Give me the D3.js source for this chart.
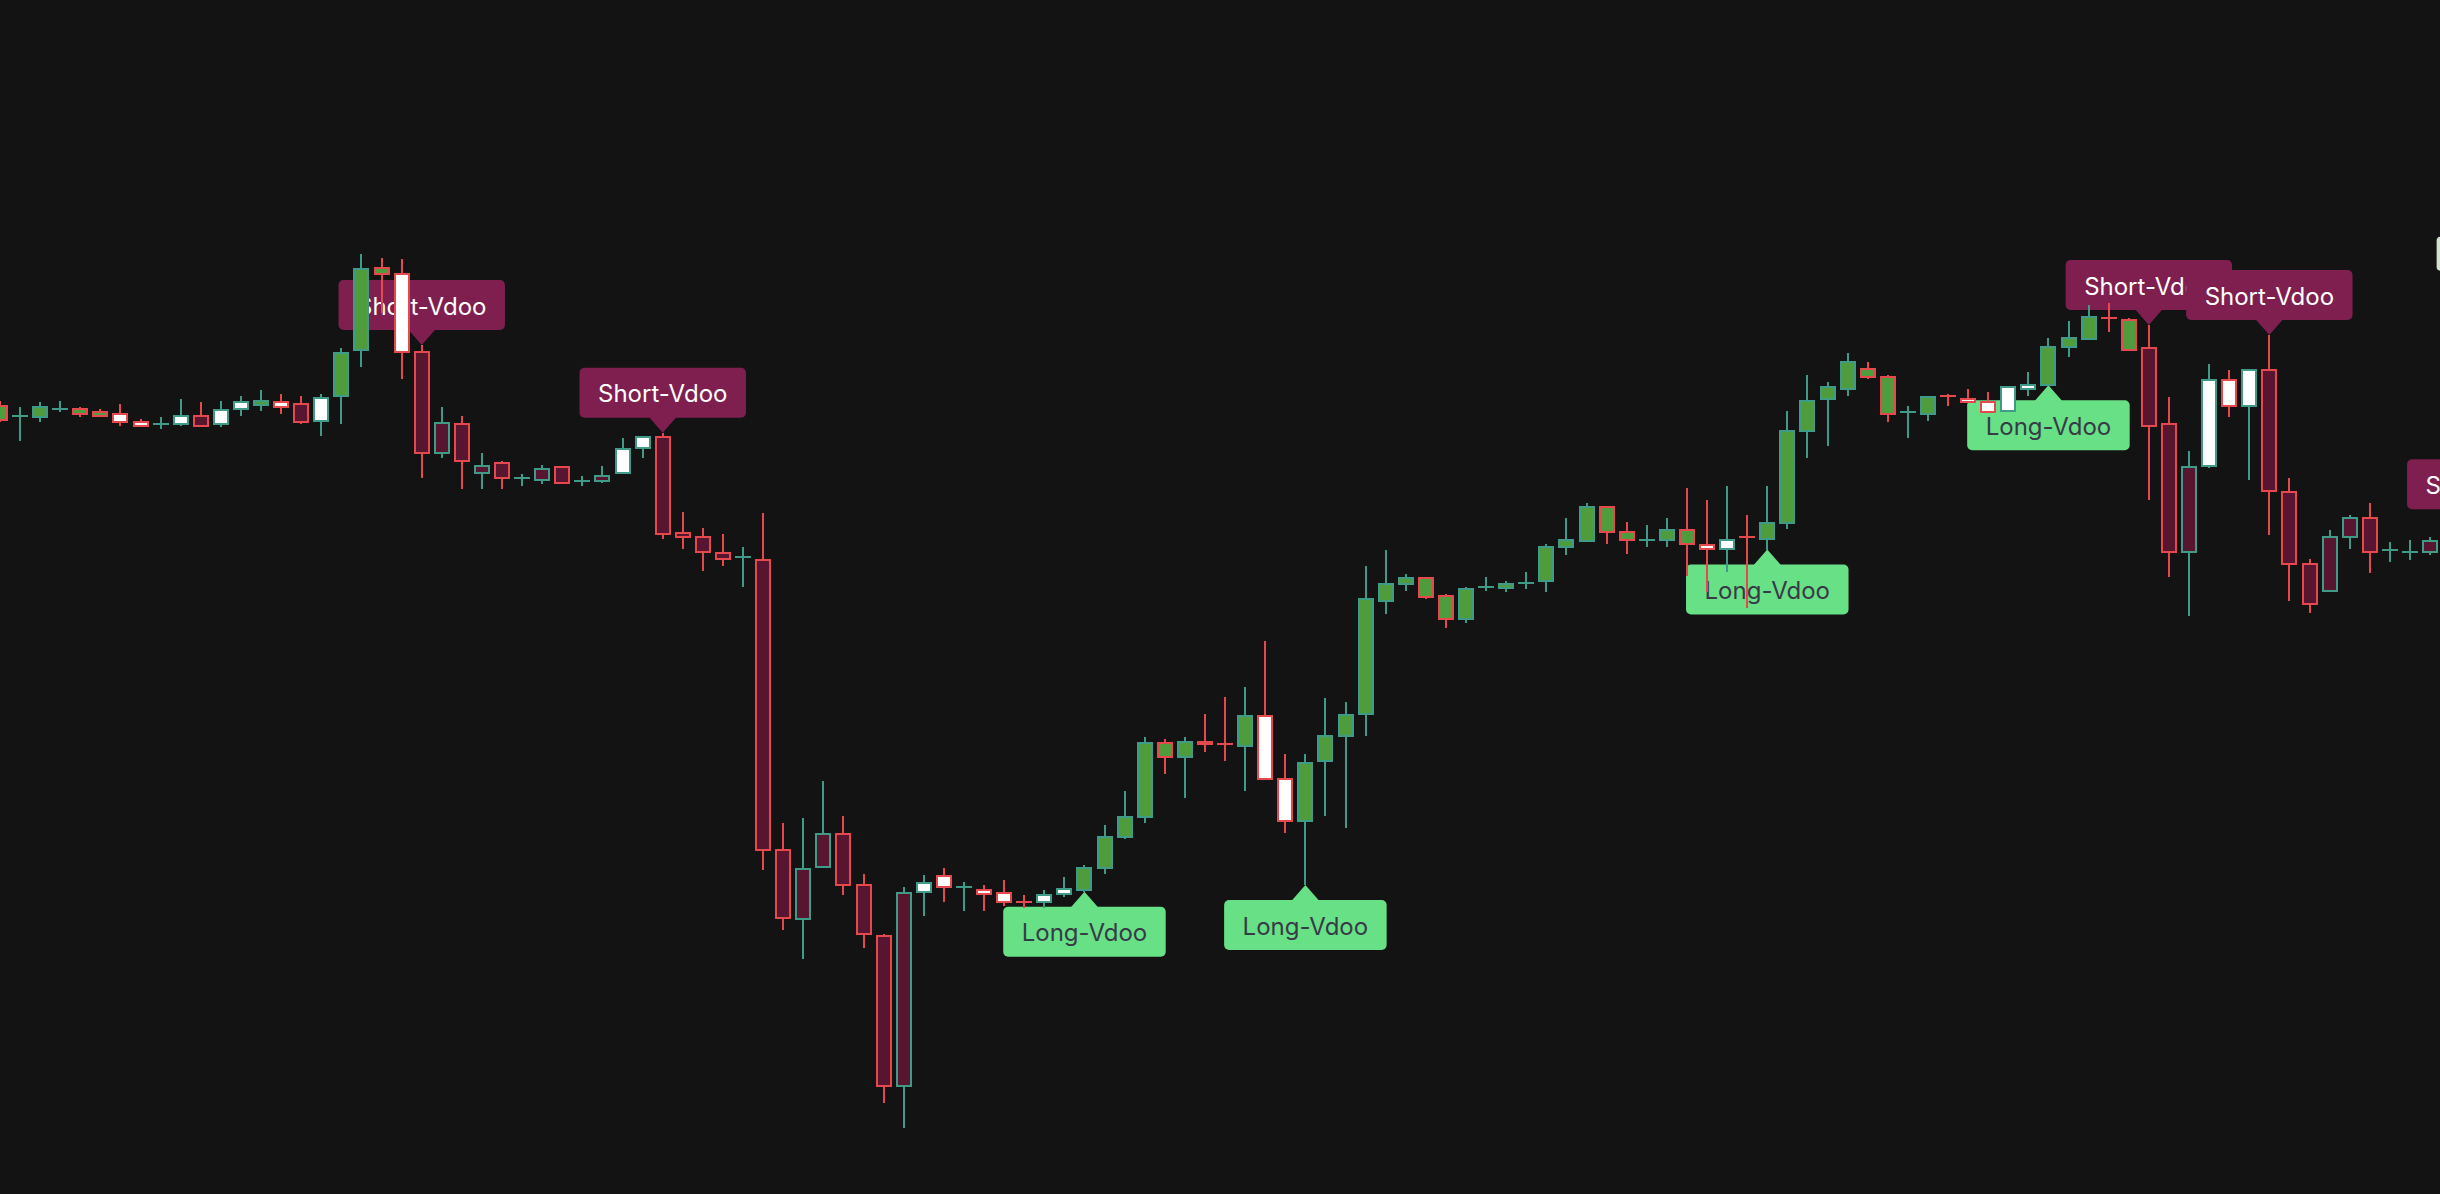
<!DOCTYPE html>
<html><head><meta charset="utf-8">
<script src="https://cdn.jsdelivr.net/npm/d3@7"></script>
<style>html,body{margin:0;padding:0;background:#131313;overflow:hidden}</style>
</head><body><svg id="c" width="2440" height="1194"></svg>
<script>
// ---- DATA ----
const open = [
79.40, 78.43, 78.27, 79.13, 79.07, 78.77, 78.57, 77.77, 77.63, 77.57,
78.37, 77.57, 79.07, 79.53, 79.77, 79.57, 77.87, 80.37, 84.97, 93.17,
92.57, 84.77, 74.67, 77.57, 72.70, 73.67, 72.23, 72.00, 73.33, 71.93,
71.87, 72.70, 75.20, 76.33, 66.73, 66.27, 64.73, 64.30, 64.05, 34.96,
28.10, 33.28, 36.65, 31.47, 26.38, 11.40, 30.84, 32.44, 31.30, 31.05,
30.72, 29.84, 29.77, 30.57, 30.97, 33.17, 36.33, 38.33, 45.73, 44.30,
45.83, 45.65, 45.37, 48.43, 42.10, 37.93, 43.87, 46.37, 48.57, 59.87,
61.57, 62.23, 60.37, 58.10, 61.33, 61.23, 61.73, 61.87, 65.27, 65.93,
69.27, 66.77, 66.00, 65.97, 66.97, 65.47, 65.07, 66.34, 66.07, 67.67,
76.87, 80.07, 81.07, 83.07, 82.27, 78.83, 78.57, 80.44, 80.07, 79.77,
78.90, 81.07, 81.47, 85.27, 86.13, 88.24, 87.97, 85.17, 77.57, 64.77,
73.37, 82.00, 79.40, 83.03, 70.83, 63.57, 60.90, 66.33, 68.23, 65.00,
64.83, 64.77
];
const high = [
79.90, 79.30, 79.77, 79.87, 79.30, 79.07, 79.60, 78.07, 78.27, 80.07,
79.77, 79.87, 80.37, 80.97, 80.57, 80.37, 80.57, 85.17, 94.60, 94.20,
94.10, 85.50, 79.30, 78.40, 74.67, 73.90, 72.57, 73.47, 73.33, 72.40,
73.40, 76.20, 76.33, 76.73, 68.80, 67.20, 66.60, 65.30, 68.72, 37.70,
38.20, 41.91, 38.41, 32.60, 26.60, 31.30, 32.52, 33.20, 31.80, 31.50,
32.00, 30.50, 31.00, 32.30, 33.50, 37.50, 40.90, 46.30, 46.07, 46.30,
48.60, 50.30, 51.27, 55.90, 44.57, 44.57, 50.17, 49.77, 63.40, 64.97,
62.57, 62.23, 60.57, 61.27, 62.30, 61.90, 62.80, 65.60, 68.20, 69.70,
69.27, 67.80, 67.50, 68.20, 71.20, 70.00, 71.40, 68.50, 71.40, 78.90,
82.50, 81.80, 84.70, 83.80, 82.47, 79.40, 80.43, 80.60, 81.10, 80.80,
81.25, 82.80, 86.20, 87.90, 89.50, 89.70, 88.20, 87.50, 80.30, 74.90,
83.60, 83.00, 83.03, 86.50, 72.20, 64.10, 67.00, 68.47, 69.67, 65.77,
66.00, 66.30
];
const low = [
77.80, 75.93, 77.83, 78.83, 78.33, 78.37, 77.43, 77.33, 77.13, 77.43,
77.37, 77.33, 78.43, 78.93, 78.63, 77.63, 76.43, 77.63, 83.33, 88.73,
82.10, 72.23, 74.23, 71.07, 71.07, 71.07, 71.43, 71.57, 71.67, 71.43,
71.73, 72.70, 74.23, 66.07, 65.07, 62.93, 63.43, 61.30, 32.98, 26.97,
24.15, 33.28, 30.54, 25.16, 9.67, 7.20, 28.44, 29.83, 28.95, 28.85,
29.37, 29.16, 29.17, 30.33, 30.83, 32.63, 36.07, 37.73, 42.63, 40.23,
44.83, 43.93, 40.93, 42.10, 36.73, 31.50, 38.43, 37.23, 46.43, 58.63,
60.93, 60.10, 57.23, 57.73, 60.93, 60.80, 61.10, 60.80, 64.50, 65.83,
65.63, 64.60, 65.30, 65.30, 62.43, 60.83, 62.83, 59.17, 65.05, 67.07,
74.23, 75.43, 80.43, 82.07, 77.83, 76.23, 77.93, 79.40, 79.67, 78.77,
78.90, 80.43, 81.47, 84.33, 86.03, 86.77, 84.87, 70.03, 62.33, 58.43,
73.23, 78.33, 72.03, 66.53, 59.93, 58.67, 60.90, 65.13, 62.67, 63.83,
64.00, 64.53
];
const close = [
78.00, 78.43, 79.27, 79.13, 78.57, 78.37, 77.77, 77.37, 77.63, 78.37,
77.37, 79.03, 79.77, 79.87, 79.33, 77.77, 80.23, 84.73, 93.07, 92.57,
84.77, 74.67, 77.73, 73.90, 73.43, 72.20, 72.23, 73.13, 71.67, 71.93,
72.43, 75.13, 76.33, 66.57, 66.30, 64.77, 64.10, 64.30, 34.96, 28.23,
33.15, 36.65, 31.47, 26.59, 11.40, 30.75, 31.72, 31.30, 31.30, 30.59,
29.80, 29.82, 30.47, 31.07, 33.17, 36.33, 38.33, 45.73, 44.30, 45.83,
45.60, 45.55, 48.43, 42.10, 37.90, 43.73, 46.37, 48.53, 60.07, 61.57,
62.23, 60.27, 58.10, 61.07, 61.33, 61.60, 61.73, 65.27, 65.97, 69.27,
66.77, 65.97, 66.00, 66.97, 65.57, 65.07, 66.05, 66.32, 67.67, 76.87,
79.87, 81.27, 83.77, 82.27, 78.57, 78.83, 80.27, 80.42, 79.77, 78.77,
81.25, 81.47, 85.27, 86.15, 88.33, 88.22, 85.00, 77.37, 64.77, 73.33,
82.00, 79.40, 83.03, 70.90, 63.60, 59.57, 66.27, 68.17, 64.77, 65.00,
64.83, 65.90
];
// trend state per candle: g = bullish, m = bearish, w = neutral
const trend = (
  "ggggggwwww" + "mwwgwmwggg" + "wmmmmmmmmm" + "mwwmmmmmmm" +
  "mmmmmmwwww" + "wwwwgggggg" + "gggwwggggg" + "gggggggggg" +
  "gggggwwwgg" + "ggggggggww" + "wwgggggmmm" + "wwwmmmmmmm" + "mm").split("");

// signals
const sigIndex  = [21, 33, 54, 65, 88, 102, 107, 113, 124];
const sigKind   = ["short","short","long","long","long","long","short","short","short"];
const sigAnchor = [85.50, 76.73, 30.83, 31.50, 65.05, 81.47, 87.50, 86.50, 67.57];
const sigText   = {short: "Short-Vdoo", long: "Long-Vdoo"};
// off-screen note tag peeking in at the right edge (bar position, top price, bottom price)
const noteIndex = [121.33];
const noteTop   = [96.33];
const noteBot   = [92.93];

// ---- CHART ----
const W = 2440, H = 1194;
const C = {
  bg: "#131313", up: "#3f9b87", down: "#e5484d",
  fill: {g: "#4e9c3c", m: "#571530", w: "#ffffff"},
  shortBg: "#7e1f4f", shortFg: "#ffffff",
  longBg: "#68e086", longFg: "#373b47",
  note: "#d0e4cb"
};
const x = d3.scaleLinear().domain([0, 121]).range([0, 2430]);
const y = d3.scaleLinear().domain([0, 120]).range([1200, 0]);

const svg = d3.select("#c");
svg.append("rect").attr("width", W).attr("height", H).attr("fill", C.bg);

// note tags
noteIndex.forEach((idx, k) => {
  svg.append("rect")
    .attr("x", x(idx)).attr("y", y(noteTop[k]))
    .attr("width", 40).attr("height", y(noteBot[k]) - y(noteTop[k]))
    .attr("rx", 4).attr("fill", C.note);
});

// labels (under candles)
const gL = svg.append("g");
const boxH = 50, triH = 15, triW = 14, padX = 18.5;
sigIndex.forEach((idx, k) => {
  const kind = sigKind[k];
  const cx = x(idx), ay = y(sigAnchor[k]);
  const g = gL.append("g");
  const isShort = kind === "short";
  const boxTop = isShort ? ay - triH - boxH : ay + triH;
  const t = g.append("text")
    .attr("x", cx).attr("y", boxTop + 34.5)
    .attr("text-anchor", "middle")
    .attr("font-family", "Inter, 'Noto Sans', sans-serif")
    .attr("font-size", 24)
    .attr("fill", isShort ? C.shortFg : C.longFg)
    .text(sigText[kind]);
  const tw = t.node().getComputedTextLength();
  const bw = tw + 2 * padX;
  g.insert("rect", "text")
    .attr("x", cx - bw / 2).attr("y", boxTop)
    .attr("width", bw).attr("height", boxH).attr("rx", 5)
    .attr("fill", isShort ? C.shortBg : C.longBg);
  const baseY = isShort ? ay - triH : ay + triH;
  g.insert("path", "text")
    .attr("d", `M${cx - triW},${baseY + (isShort ? -1 : 1)}L${cx},${ay}L${cx + triW},${baseY + (isShort ? -1 : 1)}Z`)
    .attr("fill", isShort ? C.shortBg : C.longBg);
});

// candles
const data = open.map((o, i) => ({i, o, h: high[i], l: low[i], c: close[i], t: trend[i]}));
const gC = svg.append("g");
const bodyW = 14;
data.forEach(d => {
  const cx = Math.round(x(d.i));
  const col = d.c >= d.o ? C.up : C.down;
  const g = gC.append("g");
  g.append("line")
    .attr("x1", cx).attr("x2", cx)
    .attr("y1", Math.round(y(d.h))).attr("y2", Math.round(y(d.l)))
    .attr("stroke", col).attr("stroke-width", 2);
  const top = Math.round(y(Math.max(d.o, d.c)));
  const bot = Math.round(y(Math.min(d.o, d.c)));
  if (bot - top < 1.5) {
    g.append("line")
      .attr("x1", cx - bodyW / 2 - 1).attr("x2", cx + bodyW / 2 + 1)
      .attr("y1", (top + bot) / 2).attr("y2", (top + bot) / 2)
      .attr("stroke", col).attr("stroke-width", 2);
  } else {
    g.append("rect")
      .attr("x", cx - bodyW / 2).attr("y", top)
      .attr("width", bodyW).attr("height", bot - top)
      .attr("fill", C.fill[d.t]).attr("stroke", col).attr("stroke-width", 2);
  }
});
</script>
</body></html>
